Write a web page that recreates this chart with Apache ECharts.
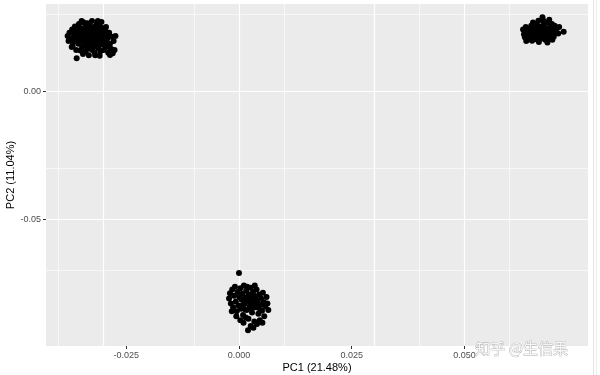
<!DOCTYPE html>
<html>
<head>
<meta charset="utf-8">
<script src="https://cdn.jsdelivr.net/npm/echarts@6/dist/echarts.min.js"></script>
<style>html,body{margin:0;padding:0;background:#fff}#c{width:600px;height:375px}</style>
</head>
<body>
<div id="c"></div>
<script>
// Cluster A (top-left)
const clusterA = [
[-0.0380,0.0215],[-0.0376,0.0228],[-0.0372,0.0205],[-0.0370,0.0240],[-0.0368,0.0190],[-0.0366,0.0222],[-0.0364,0.0252],[-0.0362,0.0200],
[-0.0360,0.0235],[-0.0358,0.0212],[-0.0356,0.0185],[-0.0355,0.0262],[-0.0353,0.0225],[-0.0351,0.0198],[-0.0350,0.0245],[-0.0348,0.0172],
[-0.0347,0.0210],[-0.0345,0.0232],[-0.0344,0.0268],[-0.0342,0.0190],[-0.0341,0.0218],[-0.0340,0.0155],[-0.0338,0.0248],[-0.0337,0.0203],
[-0.0335,0.0226],[-0.0334,0.0180],[-0.0332,0.0258],[-0.0331,0.0212],[-0.0330,0.0165],[-0.0329,0.0238],[-0.0327,0.0195],[-0.0326,0.0274],
[-0.0325,0.0222],[-0.0323,0.0178],[-0.0322,0.0250],[-0.0321,0.0205],[-0.0319,0.0140],[-0.0318,0.0230],[-0.0316,0.0188],[-0.0315,0.0262],
[-0.0314,0.0215],[-0.0312,0.0168],[-0.0311,0.0242],[-0.0310,0.0198],[-0.0308,0.0225],[-0.0307,0.0155],[-0.0305,0.0270],[-0.0304,0.0208],
[-0.0303,0.0182],[-0.0301,0.0235],[-0.0300,0.0160],[-0.0298,0.0218],[-0.0297,0.0192],[-0.0295,0.0250],[-0.0294,0.0172],[-0.0292,0.0205],
[-0.0290,0.0150],[-0.0288,0.0228],[-0.0286,0.0185],[-0.0284,0.0165],[-0.0282,0.0212],[-0.0280,0.0148],[-0.0278,0.0195],[-0.0276,0.0160],
[-0.0274,0.0215],[-0.0378,0.0195],[-0.0369,0.0175],[-0.0361,0.0160],[-0.0346,0.0145],[-0.0360,0.0128],[-0.0352,0.0158],[-0.0333,0.0140],
[-0.0320,0.0152],[-0.0309,0.0138],[-0.0357,0.0248],[-0.0349,0.0274],[-0.0336,0.0265],[-0.0324,0.0240],[-0.0313,0.0274],[-0.0302,0.0245],
[-0.0296,0.0235],[-0.0343,0.0200],[-0.0328,0.0185],[-0.0317,0.0200],[-0.0306,0.0190],[-0.0328,0.0208],[-0.0339,0.0225],[-0.0321,0.0228],
[-0.0310,0.0212],[-0.0371,0.0172],[-0.0286,0.0141],[-0.0354,0.0238],[-0.0346,0.0222],[-0.0339,0.0240],[-0.0333,0.0196],[-0.0326,0.0230],
[-0.0318,0.0215],[-0.0312,0.0190],[-0.0305,0.0228],[-0.0299,0.0205],[-0.0344,0.0180],[-0.0336,0.0172],[-0.0325,0.0160],[-0.0315,0.0175],
[-0.0359,0.0222],[-0.0363,0.0212],[-0.0350,0.0210],[-0.0340,0.0260],[-0.0330,0.0250],[-0.0319,0.0250],[-0.0308,0.0250],[-0.0293,0.0220]
];
// Cluster B (top-right)
const clusterB = [
[0.0630,0.0240],[0.0632,0.0222],[0.0634,0.0210],[0.0636,0.0250],[0.0638,0.0232],[0.0640,0.0200],[0.0641,0.0218],[0.0643,0.0242],
[0.0645,0.0205],[0.0646,0.0228],[0.0648,0.0255],[0.0650,0.0196],[0.0651,0.0236],[0.0653,0.0214],[0.0655,0.0248],[0.0656,0.0202],
[0.0658,0.0226],[0.0660,0.0262],[0.0661,0.0210],[0.0663,0.0240],[0.0665,0.0192],[0.0666,0.0222],[0.0668,0.0252],[0.0670,0.0205],
[0.0671,0.0235],[0.0673,0.0288],[0.0674,0.0215],[0.0676,0.0258],[0.0677,0.0228],[0.0679,0.0200],[0.0680,0.0245],[0.0682,0.0218],
[0.0684,0.0190],[0.0685,0.0268],[0.0687,0.0232],[0.0689,0.0208],[0.0690,0.0250],[0.0692,0.0222],[0.0694,0.0262],[0.0696,0.0238],
[0.0698,0.0212],[0.0700,0.0255],[0.0702,0.0230],[0.0705,0.0245],[0.0708,0.0225],[0.0710,0.0250],[0.0720,0.0232],[0.0637,0.0195],
[0.0652,0.0268],[0.0664,0.0275],[0.0675,0.0275],[0.0688,0.0278],[0.0649,0.0215],[0.0667,0.0210],[0.0683,0.0240],[0.0695,0.0200],
[0.0659,0.0245],[0.0644,0.0225],[0.0657,0.0232],[0.0669,0.0222],[0.0678,0.0240],[0.0686,0.0220],[0.0654,0.0205],[0.0662,0.0228]
];
// Cluster C (bottom-middle)
const clusterC = [
[0.0000,-0.0711],[-0.0022,-0.0810],[-0.0020,-0.0790],[-0.0018,-0.0830],[-0.0015,-0.0775],[-0.0013,-0.0845],[-0.0011,-0.0800],[-0.0009,-0.0765],
[-0.0007,-0.0822],[-0.0005,-0.0860],[-0.0003,-0.0785],[-0.0001,-0.0838],[0.0001,-0.0805],[0.0003,-0.0770],[0.0004,-0.0850],[0.0006,-0.0815],
[0.0008,-0.0792],[0.0009,-0.0875],[0.0011,-0.0760],[0.0012,-0.0832],[0.0014,-0.0808],[0.0016,-0.0780],[0.0017,-0.0855],[0.0019,-0.0820],
[0.0021,-0.0890],[0.0022,-0.0795],[0.0024,-0.0840],[0.0026,-0.0768],[0.0027,-0.0812],[0.0029,-0.0865],[0.0031,-0.0785],[0.0032,-0.0828],
[0.0034,-0.0900],[0.0036,-0.0802],[0.0037,-0.0845],[0.0039,-0.0775],[0.0041,-0.0818],[0.0043,-0.0870],[0.0045,-0.0795],[0.0047,-0.0835],
[0.0049,-0.0810],[0.0051,-0.0858],[0.0053,-0.0788],[0.0055,-0.0825],[0.0058,-0.0842],[0.0061,-0.0805],[0.0065,-0.0855],[0.0063,-0.0830],
[0.0020,-0.0934],[0.0026,-0.0918],[0.0032,-0.0925],[0.0040,-0.0910],[0.0046,-0.0895],[0.0052,-0.0905],[0.0010,-0.0905],[0.0015,-0.0885],
[-0.0006,-0.0880],[0.0003,-0.0895],[0.0056,-0.0880],[0.0035,-0.0760],[0.0018,-0.0765],[-0.0016,-0.0860],[0.0007,-0.0840],[0.0028,-0.0850],
[0.0044,-0.0848],[0.0013,-0.0852],[0.0020,-0.0805],[0.0033,-0.0812],[0.0025,-0.0825],[0.0010,-0.0818],[0.0040,-0.0832],[0.0030,-0.0795]
];
const xMajor = [-0.025, 0, 0.025, 0.05];
const xMinor = [-0.0375, -0.0125, 0.0125, 0.0375, 0.0625];
const yMajor = [-0.05, 0];
const yMinor = [-0.075, -0.025, 0.025];
const xTitle = 'PC1 (21.48%)';
const yTitle = 'PC2 (11.04%)';
const xRange = [-0.0428, 0.0774];
const yRange = [-0.0996, 0.0340];

const chart = echarts.init(document.getElementById('c'), null, {renderer: 'canvas'});
const font = 'Liberation Sans, Arial, sans-serif';
const gridLines = [];
xMinor.forEach(v => gridLines.push({xAxis: v, lineStyle: {color: '#fff', width: 0.6, type: 'solid'}}));
yMinor.forEach(v => gridLines.push({yAxis: v, lineStyle: {color: '#fff', width: 0.6, type: 'solid'}}));
xMajor.forEach(v => gridLines.push({xAxis: v, lineStyle: {color: '#fff', width: 1.2, type: 'solid'}}));
yMajor.forEach(v => gridLines.push({yAxis: v, lineStyle: {color: '#fff', width: 1.2, type: 'solid'}}));

const pointStyle = {type: 'scatter', symbol: 'circle', symbolSize: 6, itemStyle: {color: '#000', opacity: 1}, z: 20, silent: true};

chart.setOption({
  animation: false,
  backgroundColor: '#fff',
  grid: {left: 46, right: 12, top: 4, bottom: 29, show: true, backgroundColor: '#EBEBEB', borderWidth: 0,
         containLabel: false, outerBoundsMode: 'none'},
  xAxis: {
    type: 'value', min: xRange[0], max: xRange[1],
    axisLine: {show: false, onZero: false},
    axisTick: {show: true, customValues: xMajor, length: 3, lineStyle: {color: '#333', width: 1}},
    axisLabel: {customValues: xMajor, formatter: v => v.toFixed(3), color: '#4D4D4D', fontSize: 9, fontFamily: font, margin: 5},
    splitLine: {show: false},
    name: xTitle, nameLocation: 'middle', nameGap: 16, nameMoveOverlap: false,
    nameTextStyle: {color: '#000', fontSize: 11, fontFamily: font}
  },
  yAxis: {
    type: 'value', min: yRange[0], max: yRange[1],
    axisLine: {show: false, onZero: false},
    axisTick: {show: true, customValues: yMajor, length: 3, lineStyle: {color: '#333', width: 1}},
    axisLabel: {customValues: yMajor, formatter: v => v.toFixed(2), color: '#4D4D4D', fontSize: 9, fontFamily: font, margin: 5},
    splitLine: {show: false},
    name: yTitle, nameLocation: 'middle', nameGap: 30, nameRotate: 90, nameMoveOverlap: false,
    nameTextStyle: {color: '#000', fontSize: 11, fontFamily: font}
  },
  series: [
    {type: 'line', data: [], z: 1, silent: true,
     markLine: {z: 1, silent: true, symbol: ['none', 'none'], label: {show: false}, animation: false, data: gridLines}},
    Object.assign({}, pointStyle, {data: clusterA}),
    Object.assign({}, pointStyle, {data: clusterB}),
    Object.assign({}, pointStyle, {data: clusterC})
  ],
  graphic: [
    {type: 'rect', left: 593, top: 0, shape: {width: 1, height: 375}, style: {fill: '#e4e4e4'}, silent: true},
    {type: 'rect', left: 596, top: 0, shape: {width: 1, height: 375}, style: {fill: '#ececec'}, silent: true},
    {type: 'text', left: 475, top: 340, silent: true, z: 100,
     style: {text: '知乎 @生信果', fill: '#f6f6f6', stroke: '#a8a8a8', lineWidth: 0.7,
             font: '15px "Noto Sans CJK SC", sans-serif'}}
  ]
});
</script>
</body>
</html>
